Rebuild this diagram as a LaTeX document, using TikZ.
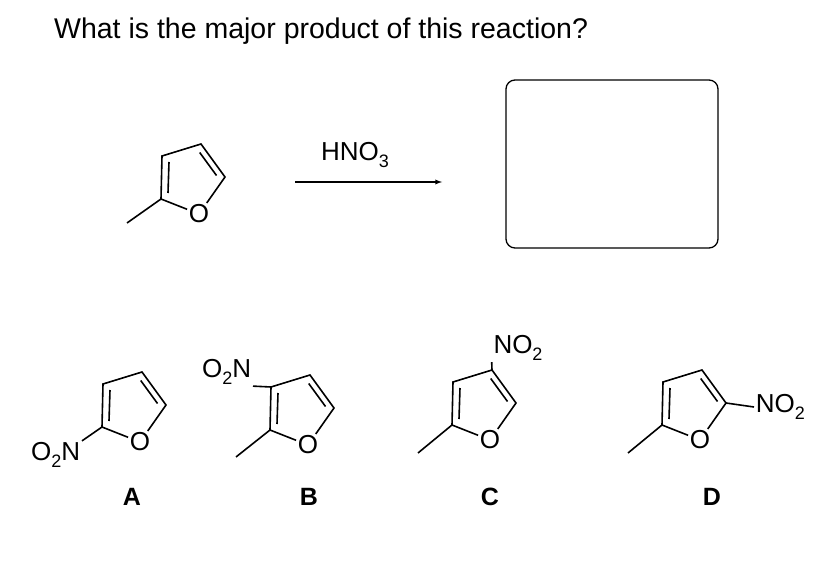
\documentclass[tikz,border=0pt]{standalone}
\usepackage{fontspec}
\setmainfont{Liberation Sans}
\newcommand{\sub}[1]{\raisebox{-0.25em}{\fontsize{18}{18}\selectfont #1}}
\begin{document}
\begin{tikzpicture}[x=1pt,y=-1pt,line width=1.6pt,
  atom/.style={inner sep=1pt,font=\fontsize{26}{26}\selectfont},
  lbl/.style={font=\bfseries\fontsize{25}{25}\selectfont}]
\useasboundingbox (0,0) rectangle (838,572);
\newcommand{\myfuran}[3]{%
 \begin{scope}[shift={(#2,#3)}]
  \coordinate (#1c2) at (0,0);
  \coordinate (#1c3) at (1,-43);
  \coordinate (#1c4) at (40,-55);
  \coordinate (#1c5) at (64,-22);
  \node[atom] (#1o) at (38,15) {O};
  \draw (#1c2) -- (#1c3) -- (#1c4) -- (#1c5) -- (#1o) -- (#1c2);
  \draw (7,-6) -- (8,-37);
  \draw (38.7,-46.5) -- (55.5,-23.5);
 \end{scope}}
\node[font=\fontsize{28.5}{28.5}\selectfont,anchor=west] (title) at (50,31) {What is the major product of this reaction?};
% reactant
\myfuran{r}{161}{199}
\coordinate (rm) at (127,223);
\draw (rc2) -- (rm);
\coordinate (a1) at (295,182);
\coordinate (a2) at (442,182);
\draw[line width=1.3pt,-latex] (a1) -- (a2);
\node[atom] (hno3) at (355,155) {HNO\sub{3}};
\node[draw,rounded corners=9pt,line width=1.3pt,minimum width=212pt,minimum height=168pt] (box) at (612,164) {};
% A
\myfuran{a}{102}{427}
\node[atom,anchor=east] (ano2) at (82,455) {O\sub{2}N};
\draw (ac2) -- (ano2.north east);
\node[lbl] (la) at (132,497) {A};
% B
\myfuran{b}{270}{430}
\coordinate (bm) at (236,457);
\draw (bc2) -- (bm);
\node[atom,anchor=east] (bno2) at (253,372) {O\sub{2}N};
\draw (bc3) -- (bno2.south east);
\node[lbl] (lb) at (309,497) {B};
% C
\myfuran{c}{452}{425}
\coordinate (cm) at (418,453);
\draw (cc2) -- (cm);
\node[atom] (cno2) at (518,348) {NO\sub{2}};
\draw (cc4) -- (cno2.south west);
\node[lbl] (lc) at (490,497) {C};
% D
\myfuran{d}{662}{425}
\coordinate (dm) at (628,453);
\draw (dc2) -- (dm);
\node[atom,anchor=west] (dno2) at (754,407) {NO\sub{2}};
\draw (dc5) -- (dno2.west);
\node[lbl] (ld) at (712,497) {D};
\end{tikzpicture}
\end{document}
